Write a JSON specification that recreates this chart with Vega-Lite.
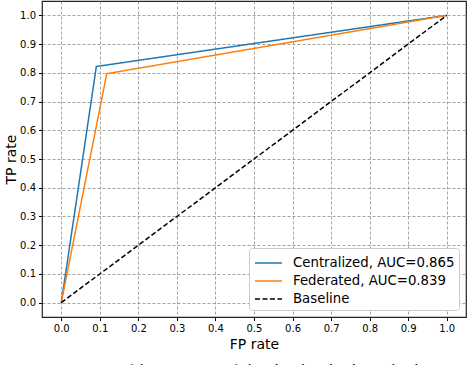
{
  "$schema": "https://vega.github.io/schema/vega-lite/v6.json",
  "width": 424,
  "height": 316,
  "autosize": {"type": "none"},
  "padding": {"left": 42, "top": 1, "right": 8, "bottom": 48},
  "background": "white",
  "config": {
    "font": "DejaVu Sans",
    "view": {"stroke": "#222", "strokeWidth": 1.2},
    "axis": {
      "labelFont": "DejaVu Sans",
      "labelFontSize": 10,
      "labelColor": "black",
      "titleFont": "DejaVu Sans",
      "titleFontSize": 14,
      "titleFontWeight": "normal",
      "titleColor": "black",
      "tickColor": "black",
      "tickSize": 3.5,
      "domain": false,
      "gridColor": "#999",
      "gridDash": [3, 2],
      "gridWidth": 0.9,
      "gridOpacity": 1
    }
  },
  "title": {
    "text": "Figure 1: Comparison of the ROC curves of Shared FL-based and centralized training models",
    "orient": "bottom",
    "anchor": "start",
    "frame": "group",
    "dx": -42,
    "offset": 10,
    "font": "Liberation Serif",
    "fontSize": 13.5,
    "fontWeight": "normal",
    "color": "black"
  },
  "data": {
    "values": [
      {"series": "Centralized, AUC=0.865", "fpr": 0.0, "tpr": 0.0, "k": 0},
      {"series": "Centralized, AUC=0.865", "fpr": 0.091, "tpr": 0.822, "k": 1},
      {"series": "Centralized, AUC=0.865", "fpr": 1.0, "tpr": 1.0, "k": 2},
      {"series": "Federated, AUC=0.839", "fpr": 0.0, "tpr": 0.0, "k": 0},
      {"series": "Federated, AUC=0.839", "fpr": 0.118, "tpr": 0.797, "k": 1},
      {"series": "Federated, AUC=0.839", "fpr": 1.0, "tpr": 1.0, "k": 2},
      {"series": "Baseline", "fpr": 0.0, "tpr": 0.0, "k": 0},
      {"series": "Baseline", "fpr": 1.0, "tpr": 1.0, "k": 1}
    ]
  },
  "mark": {"type": "line", "strokeWidth": 1.5, "clip": true},
  "encoding": {
    "x": {
      "field": "fpr",
      "type": "quantitative",
      "title": "FP rate",
      "scale": {"domain": [-0.05, 1.05], "nice": false, "zero": false},
      "axis": {"values": [0, 0.1, 0.2, 0.3, 0.4, 0.5, 0.6, 0.7, 0.8, 0.9, 1.0], "format": ".1f", "labelPadding": 3, "titlePadding": 4, "labelFlush": false}
    },
    "y": {
      "field": "tpr",
      "type": "quantitative",
      "title": "TP rate",
      "scale": {"domain": [-0.05, 1.05], "nice": false, "zero": false},
      "axis": {"values": [0, 0.1, 0.2, 0.3, 0.4, 0.5, 0.6, 0.7, 0.8, 0.9, 1.0], "format": ".1f", "labelPadding": 3, "titlePadding": 1, "labelFlush": false}
    },
    "order": {"field": "k"},
    "color": {
      "field": "series",
      "type": "nominal",
      "sort": ["Centralized, AUC=0.865", "Federated, AUC=0.839", "Baseline"],
      "scale": {"domain": ["Centralized, AUC=0.865", "Federated, AUC=0.839", "Baseline"], "range": ["#1f77b4", "#ff7f0e", "black"]},
      "legend": {
        "title": null,
        "orient": "bottom-right",
        "offset": 7,
        "fillColor": "white",
        "strokeColor": "#ccc",
        "cornerRadius": 3,
        "padding": 4,
        "labelFont": "DejaVu Sans",
        "labelFontSize": 13.3,
        "labelColor": "black",
        "symbolType": "M-0.9,0H1.8",
        "symbolSize": 400,
        "symbolStrokeWidth": 1.5,
        "rowPadding": 0,
        "labelOffset": 18,
        "labelLimit": 300
      }
    },
    "strokeDash": {
      "field": "series",
      "type": "nominal",
      "sort": ["Centralized, AUC=0.865", "Federated, AUC=0.839", "Baseline"],
      "scale": {"domain": ["Centralized, AUC=0.865", "Federated, AUC=0.839", "Baseline"], "range": [[1, 0], [1, 0], [5, 2.5]]},
      "legend": null
    }
  }
}
